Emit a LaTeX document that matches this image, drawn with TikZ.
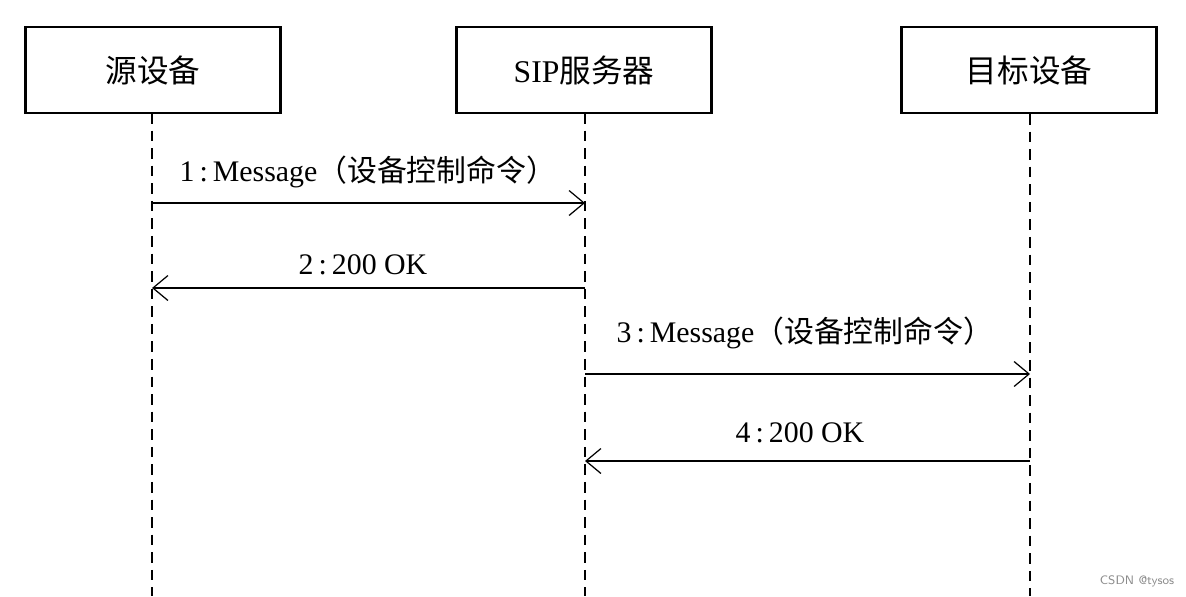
\documentclass[tikz,border=0pt]{standalone}
\usepackage{fontspec}
\setmainfont{Liberation Serif}
\newfontfamily\cjk{Noto Sans CJK SC}
\usetikzlibrary{positioning,arrows.meta}

\begin{document}
\begin{tikzpicture}[x=0.02cm, y=-0.02cm,
    actor/.style={draw, line width=1.6pt, minimum width=5.1cm, minimum height=1.72cm, font=\fontsize{18}{21}\selectfont},
    lifeline/.style={dash pattern=on 6pt off 4pt, line width=0.7pt},
    msg/.style={-{Straight Barb[length=3mm,width=5mm]}, line width=0.7pt},
    msglabel/.style={font=\fontsize{17}{20}\selectfont}]
    \useasboundingbox (0,0) rectangle (1186,596);
    % Actors
    \node[actor] (src) at (153,70) {\cjk 源设备};
    \node[actor] (sip) at (584,70) {SIP{\cjk 服务器}};
    \node[actor] (dst) at (1029,70) {\cjk 目标设备};
    % Lifelines
    \coordinate (srcend) at (152,596);
    \coordinate (sipend) at (585,596);
    \coordinate (dstend) at (1030,596);
    \draw[lifeline] (152,113) -- (srcend);
    \draw[lifeline] (585,113) -- (sipend);
    \draw[lifeline] (1030,114) -- (dstend);
    % Messages
    \coordinate (s1) at (152,203); \coordinate (p1) at (585,203);
    \coordinate (p2) at (585,288); \coordinate (s2) at (152,288);
    \coordinate (p3) at (585,374); \coordinate (d3) at (1030,374);
    \coordinate (d4) at (1030,461); \coordinate (p4) at (585,461);
    \draw[msg] (s1) -- (p1);
    \draw[msg] (p2) -- (s2);
    \draw[msg] (p3) -- (d3);
    \draw[msg] (d4) -- (p4);
    \node[msglabel] (l1) at (368,172) {1\,:\,Message{\cjk （设备控制命令）}};
    \node[msglabel] (l2) at (363,265) {2\,:\,200 OK};
    \node[msglabel] (l3) at (805,333) {3\,:\,Message{\cjk （设备控制命令）}};
    \node[msglabel] (l4) at (800,433) {4\,:\,200 OK};
    \node[text=black!45, font=\fontsize{7}{8}\sffamily] (wm) at (1137,581) {CSDN @tysos};
\end{tikzpicture}
\end{document}
